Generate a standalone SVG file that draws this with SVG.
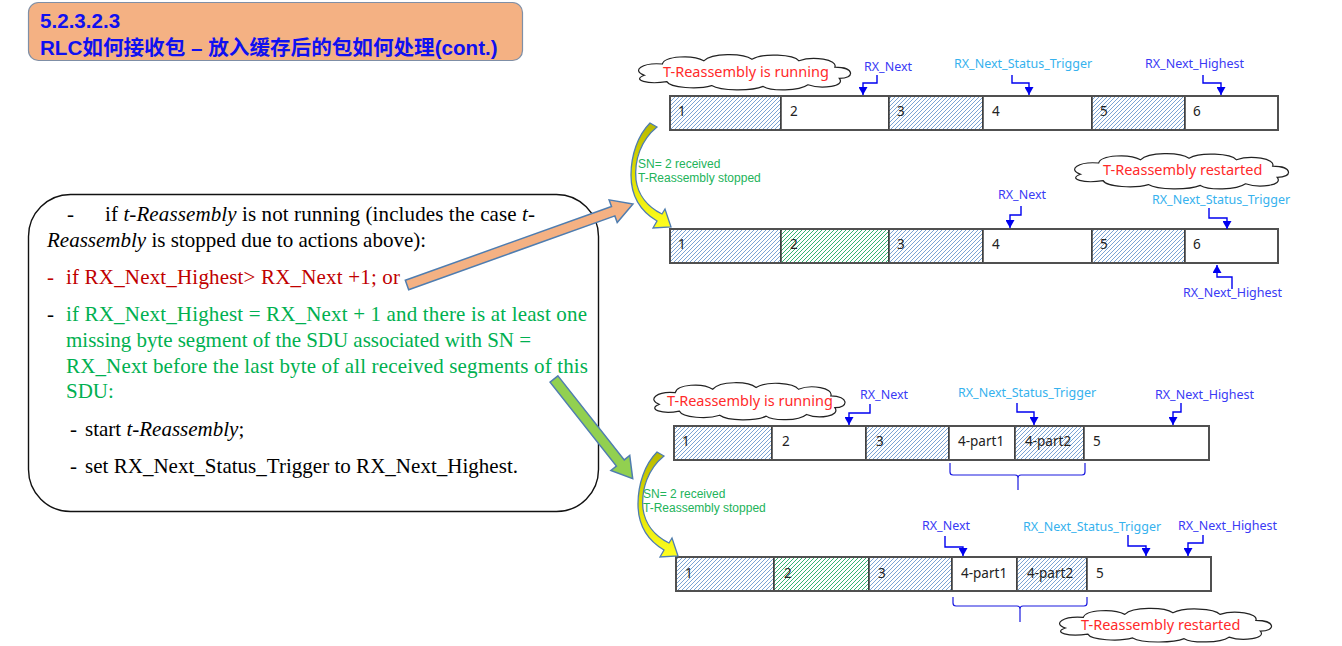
<svg xmlns="http://www.w3.org/2000/svg" xmlns:xlink="http://www.w3.org/1999/xlink" width="1342" height="646" viewBox="0 0 1342 646">
<style>
.ttl{font-family:"Liberation Sans","Noto Sans CJK SC",sans-serif;font-weight:bold;font-size:20.6px;fill:#1010F0}
.tb{font-family:"Liberation Serif","Times New Roman",serif;font-size:21px;fill:#000}
.red{fill:#C00000}
.grn{fill:#00B050}
.it{font-style:italic}
.cell{stroke:#303030;stroke-width:1.4}
.bar{fill:none;stroke:#505050;stroke-width:2}
.num{font-family:"Noto Sans","DejaVu Sans",sans-serif;font-size:13.5px;fill:#222}
.lb{font-family:"Noto Sans","DejaVu Sans",sans-serif;font-size:12.5px;fill:#3A3AF5}
.lbs{font-family:"Noto Sans","DejaVu Sans",sans-serif;font-size:12.5px;fill:#36B2EE}
.el{fill:none;stroke:#0000F0;stroke-width:1.4;marker-end:url(#ah)}
.cloud{fill:#fff;stroke:#222;stroke-width:1.2}
.ct{font-family:"Noto Sans","DejaVu Sans",sans-serif;font-size:14.5px;fill:#FF2A2A}
.sn{font-family:"Liberation Sans","Arial",sans-serif;font-size:12px;fill:#22B35A}
.yel{fill:url(#yg);stroke:#4F7DB0;stroke-width:1.3}
.brace{fill:none;stroke:#1A1AE0;stroke-width:1.2}
</style>
<defs>
<pattern id="hb" patternUnits="userSpaceOnUse" width="4" height="4">
<rect width="4" height="4" fill="#fff"/>
<path d="M-1,1 l2,-2 M0,4 l4,-4 M3,5 l2,-2" stroke="#4F86C6" stroke-width="0.75"/>
</pattern>
<pattern id="hg" patternUnits="userSpaceOnUse" width="4" height="4">
<rect width="4" height="4" fill="#fff"/>
<path d="M-1,1 l2,-2 M0,4 l4,-4 M3,5 l2,-2" stroke="#00A050" stroke-width="0.8"/>
</pattern>
<linearGradient id="yg" x1="0" y1="0" x2="0" y2="1">
<stop offset="0" stop-color="#B8B800"/>
<stop offset="0.5" stop-color="#E0E000"/>
<stop offset="1" stop-color="#FFFF20"/>
</linearGradient>
<marker id="ah" markerUnits="userSpaceOnUse" markerWidth="9" markerHeight="9" refX="8" refY="4.5" orient="auto">
<path d="M0,0 L8,4.5 L0,9 Z" fill="#0000F0"/>
</marker>
<path id="cl" vector-effect="non-scaling-stroke" d="M-88,4 C-100,-2 -90,-12 -72,-10 C-70,-20 -45,-22 -35,-14 C-28,-24 0,-24 8,-16 C18,-24 45,-22 50,-14 C62,-20 85,-16 82,-6 C100,-6 100,8 86,8 C92,18 70,22 58,16 C50,24 25,24 18,18 C8,24 -20,24 -28,17 C-40,22 -65,20 -68,12 C-85,16 -100,10 -88,4 Z"/>
</defs>
<rect width="1342" height="646" fill="#fff"/>

<g id="title">
<rect x="28.5" y="2.5" width="494" height="58" rx="10" fill="#F4B183" stroke="#7F8FA6" stroke-width="1.2"/>
<text class="ttl" x="40" y="28">5.2.3.2.3</text>
<text class="ttl" x="40" y="55">RLC如何接收包 – 放入缓存后的包如何处理(cont.)</text>
</g>

<g id="textbox">
<rect x="28.5" y="194.5" width="570" height="317" rx="42" fill="#fff" stroke="#111" stroke-width="1.4"/>
<text class="tb" x="67" y="221">-</text>
<text class="tb" x="105" y="221" textLength="430" lengthAdjust="spacing">if <tspan class="it">t-Reassembly</tspan> is not running (includes the case <tspan class="it">t-</tspan></text>
<text class="tb" x="47" y="247"><tspan class="it">Reassembly</tspan> is stopped due to actions above):</text>
<text class="tb red" x="47" y="284">-</text>
<text class="tb red" x="66" y="284" textLength="334" lengthAdjust="spacing">if RX_Next_Highest&gt;  RX_Next +1; or</text>
<text class="tb" x="47" y="321">-</text>
<text class="tb grn" x="66" y="321" textLength="521" lengthAdjust="spacing">if RX_Next_Highest  = RX_Next + 1 and there is at least one</text>
<text class="tb grn" x="66" y="347" textLength="465" lengthAdjust="spacing">missing byte segment of the SDU associated with SN =</text>
<text class="tb grn" x="66" y="373" textLength="522" lengthAdjust="spacing">RX_Next before the last byte of all received segments of this</text>
<text class="tb grn" x="66" y="398">SDU:</text>
<text class="tb" x="70" y="436">-</text>
<text class="tb" x="85" y="436">start <tspan class="it">t-Reassembly</tspan>;</text>
<text class="tb" x="70" y="473">-</text>
<text class="tb" x="85" y="473" textLength="433" lengthAdjust="spacing">set RX_Next_Status_Trigger  to RX_Next_Highest.</text>
</g>

<g id="row1">
<rect class="cell" x="670" y="96" width="111" height="34" fill="url(#hb)"/>
<rect class="cell" x="781" y="96" width="108" height="34" fill="#fff"/>
<rect class="cell" x="889" y="96" width="94" height="34" fill="url(#hb)"/>
<rect class="cell" x="983" y="96" width="109" height="34" fill="#fff"/>
<rect class="cell" x="1092" y="96" width="93" height="34" fill="url(#hb)"/>
<rect class="cell" x="1185" y="96" width="93" height="34" fill="#fff"/>
<rect class="bar" x="670" y="96" width="608" height="34"/>
<text class="num" x="678" y="116">1</text><text class="num" x="790" y="116">2</text><text class="num" x="897" y="116">3</text>
<text class="num" x="992" y="116">4</text><text class="num" x="1100" y="116">5</text><text class="num" x="1193" y="116">6</text>
</g>

<g id="row2">
<rect class="cell" x="670" y="229" width="111" height="34" fill="url(#hb)"/>
<rect class="cell" x="781" y="229" width="108" height="34" fill="url(#hg)"/>
<rect class="cell" x="889" y="229" width="94" height="34" fill="url(#hb)"/>
<rect class="cell" x="983" y="229" width="109" height="34" fill="#fff"/>
<rect class="cell" x="1092" y="229" width="93" height="34" fill="url(#hb)"/>
<rect class="cell" x="1185" y="229" width="93" height="34" fill="#fff"/>
<rect class="bar" x="670" y="229" width="608" height="34"/>
<text class="num" x="678" y="249">1</text><text class="num" x="790" y="249">2</text><text class="num" x="897" y="249">3</text>
<text class="num" x="992" y="249">4</text><text class="num" x="1100" y="249">5</text><text class="num" x="1193" y="249">6</text>
</g>

<g id="row3">
<rect class="cell" x="674" y="426" width="98" height="34" fill="url(#hb)"/>
<rect class="cell" x="772" y="426" width="94" height="34" fill="#fff"/>
<rect class="cell" x="866" y="426" width="83" height="34" fill="url(#hb)"/>
<rect class="cell" x="949" y="426" width="66" height="34" fill="#fff"/>
<rect class="cell" x="1015" y="426" width="69" height="34" fill="url(#hb)"/>
<rect class="cell" x="1084" y="426" width="125" height="34" fill="#fff"/>
<rect class="bar" x="674" y="426" width="535" height="34"/>
<text class="num" x="682" y="446">1</text><text class="num" x="782" y="446">2</text><text class="num" x="876" y="446">3</text>
<text class="num" x="958" y="446">4-part1</text><text class="num" x="1025" y="446">4-part2</text><text class="num" x="1093" y="446">5</text>
<path class="brace" d="M950,463 V472 Q950,475 953,475 H1015 Q1018,475 1018,478 V490 M1018,478 Q1018,475 1021,475 H1082 Q1085,475 1085,472 V463"/>
</g>

<g id="row4">
<rect class="cell" x="676" y="557" width="98" height="34" fill="url(#hb)"/>
<rect class="cell" x="774" y="557" width="95" height="34" fill="url(#hg)"/>
<rect class="cell" x="869" y="557" width="83" height="34" fill="url(#hb)"/>
<rect class="cell" x="952" y="557" width="65" height="34" fill="#fff"/>
<rect class="cell" x="1017" y="557" width="70" height="34" fill="url(#hb)"/>
<rect class="cell" x="1087" y="557" width="124" height="34" fill="#fff"/>
<rect class="bar" x="676" y="557" width="535" height="34"/>
<text class="num" x="685" y="578">1</text><text class="num" x="784" y="578">2</text><text class="num" x="878" y="578">3</text>
<text class="num" x="961" y="578">4-part1</text><text class="num" x="1027" y="578">4-part2</text><text class="num" x="1096" y="578">5</text>
<path class="brace" d="M953,597 V603 Q953,606 956,606 H1017 Q1020,606 1020,609 V622 M1020,609 Q1020,606 1023,606 H1084 Q1087,606 1087,603 V597"/>
</g>

<g id="cloud1">
<use xlink:href="#cl" class="cloud" transform="translate(743,72) scale(1.12,0.8)"/>
<text class="ct" x="663" y="77">T-Reassembly is running</text>
</g>
<g id="cloud2">
<use xlink:href="#cl" class="cloud" transform="translate(1180,171) scale(1.13,0.8)"/>
<text class="ct" x="1103" y="175">T-Reassembly restarted</text>
</g>
<g id="cloud3">
<use xlink:href="#cl" class="cloud" transform="translate(748,401) scale(1.01,0.84)"/>
<text class="ct" x="667" y="406">T-Reassembly is running</text>
</g>
<g id="cloud4">
<use xlink:href="#cl" class="cloud" transform="translate(1164,625) scale(1.12,0.76)"/>
<text class="ct" x="1081" y="630">T-Reassembly restarted</text>
</g>

<g id="labels">
<text class="lb" x="864" y="71">RX_Next</text>
<text class="lbs" x="954" y="68">RX_Next_Status_Trigger</text>
<text class="lb" x="1145" y="68">RX_Next_Highest</text>
<text class="lb" x="998" y="199">RX_Next</text>
<text class="lbs" x="1152" y="204">RX_Next_Status_Trigger</text>
<text class="lb" x="1183" y="297">RX_Next_Highest</text>
<text class="lb" x="860" y="399">RX_Next</text>
<text class="lbs" x="958" y="397">RX_Next_Status_Trigger</text>
<text class="lb" x="1155" y="399">RX_Next_Highest</text>
<text class="lb" x="922" y="530">RX_Next</text>
<text class="lbs" x="1023" y="531">RX_Next_Status_Trigger</text>
<text class="lb" x="1178" y="530">RX_Next_Highest</text>
<text class="sn" x="638" y="168">SN= 2 received</text>
<text class="sn" x="638" y="182">T-Reassembly stopped</text>
<text class="sn" x="643" y="498">SN= 2 received</text>
<text class="sn" x="643" y="512">T-Reassembly stopped</text>
</g>

<g id="connectors">
<path class="el" d="M877,75 V83 H863 V95"/>
<path class="el" d="M1012,75 V83 H1029 V95"/>
<path class="el" d="M1203,75 V83 H1221 V95"/>
<path class="el" d="M1021,206 V215 H1010 V228"/>
<path class="el" d="M1209,208 V218 H1227 V229"/>
<path class="el" d="M1232,289 V277 H1217 V265"/>
<path class="el" d="M870,404 V413 H849 V425"/>
<path class="el" d="M1017,403 V412 H1034 V425"/>
<path class="el" d="M1181,403 V412 H1173 V425"/>
<path class="el" d="M945,536 V547 H963 V556"/>
<path class="el" d="M1128,535 V546 H1146 V556"/>
<path class="el" d="M1203,535 V543 H1188 V556"/>
<path class="yel" d="M650,123 L657,127 C641,140 634,160 636,180 C638,195 648,207 662,214 L665,209 L671,227 L653,228 L657,221 C640,211 631,195 631,175 C631,155 638,135 650,123 Z"/>
<path class="yel" transform="translate(7,329)" d="M650,123 L657,127 C641,140 634,160 636,180 C638,195 648,207 662,214 L665,209 L671,227 L653,228 L657,221 C640,211 631,195 631,175 C631,155 638,135 650,123 Z"/>
<path transform="translate(407,285) rotate(-19.7)" d="M0,-5 L219,-5 L219,-12 L240,0 L219,12 L219,5 L0,5 Z" fill="#F4B183" stroke="#4F7DB0" stroke-width="1.5"/>
<path transform="translate(554,379) rotate(51.7)" d="M0,-5 L107,-5 L107,-12 L127,0 L107,12 L107,5 L0,5 Z" fill="#92D050" stroke="#4F7DB0" stroke-width="1.5"/>
</g>
</svg>
